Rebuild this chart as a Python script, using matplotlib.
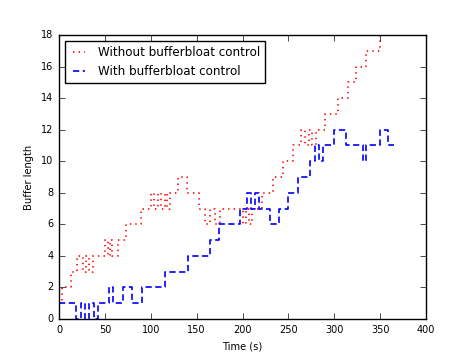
import matplotlib
matplotlib.use('Agg')
import matplotlib.pyplot as plt

# step data (time in s, buffer length)
t_without = [0, 3, 13, 20, 26, 29, 33, 37, 50, 53, 56, 58, 64, 73, 89, 100, 104, 108, 111, 115,
             118, 121, 130, 139, 153, 159, 164, 170, 175, 200, 204, 207, 210, 221, 233, 244, 255,
             264, 268, 272, 276, 280, 290, 304, 315, 324, 335, 350]
b_without = [1, 2, 3, 4, 3, 4, 3, 4, 5, 4, 5, 4, 5, 6, 7, 8, 7, 8, 7, 8,
             7, 8, 9, 8, 7, 6, 7, 6, 7, 6, 7, 6, 7, 8, 9, 10, 11,
             12, 11, 12, 11, 12, 13, 14, 15, 16, 17, 18]

t_with = [0, 19, 24, 28, 33, 38, 43, 54, 59, 70, 79, 90, 115, 141, 164, 174, 197, 205, 209, 213,
          218, 230, 240, 250, 260, 274, 279, 283, 288, 300, 313, 331, 335, 350, 358, 365]
b_with = [1, 0, 1, 0, 1, 0, 1, 2, 1, 2, 1, 2, 3, 4, 5, 6, 7, 8, 7, 8,
          7, 6, 7, 8, 9, 10, 11, 10, 11, 12, 11, 10, 11, 12, 11, 11]

x_ticks = [0, 50, 100, 150, 200, 250, 300, 350, 400]
y_ticks = [0, 2, 4, 6, 8, 10, 12, 14, 16, 18]

plt.style.use('classic')
plt.rcParams['font.size'] = 7.1
plt.rcParams['lines.scale_dashes'] = False

fig = plt.figure(figsize=(4.74, 3.55), dpi=100, facecolor='white')
ax = fig.add_axes([0.1245, 0.1014, 0.7745, 0.8])

ax.plot(t_without, b_without, 'r:', drawstyle='steps-post', lw=1.2,
        label='Without bufferbloat control')
ax.plot(t_with, b_with, 'b--', drawstyle='steps-post', lw=1.2, dashes=(4.5, 2.5),
        label='With bufferbloat control')

ax.set_xlim(0, 400)
ax.set_ylim(0, 18)
ax.set_xticks(x_ticks)
ax.set_yticks(y_ticks)
ax.tick_params(labelsize=7)
ax.set_xlabel('Time (s)', fontsize=7.1)
ax.set_ylabel('Buffer length', fontsize=7.1)
ax.legend(loc='upper left', fontsize=8.6, handlelength=1.6)

fig.savefig('out.png', dpi=100, facecolor='white')
